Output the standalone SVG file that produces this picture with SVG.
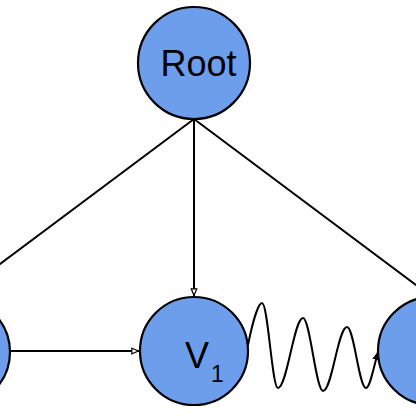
<svg xmlns="http://www.w3.org/2000/svg" width="416" height="416" viewBox="0 0 416 416">
<defs>
<style>
.node{fill:#6d9eeb;stroke:#000;stroke-width:2.2}
.edge{fill:none;stroke:#000;stroke-width:2}
.lbl{font-family:"Liberation Sans",Arial,sans-serif;fill:#000}
</style>
<marker id="open" viewBox="0 0 10 10" refX="10" refY="5" markerWidth="10" markerHeight="8" markerUnits="userSpaceOnUse" orient="auto">
<path d="M1,1.5 L9.5,5 L1,8.5 Z" fill="#fff" stroke="#000" stroke-width="1.5"/>
</marker>
<marker id="solid" viewBox="0 0 10 10" refX="9" refY="5" markerWidth="9" markerHeight="9" markerUnits="userSpaceOnUse" orient="auto">
<path d="M0,1 L10,5 L0,9 Z" fill="#000"/>
</marker>
</defs>
<rect width="416" height="416" fill="#fff"/>
<g id="connectors">
<line class="edge" x1="194" y1="119" x2="-44" y2="297"/>
<line class="edge" x1="194" y1="119" x2="432" y2="297"/>
<line class="edge" x1="194" y1="119" x2="194" y2="296" marker-end="url(#open)"/>
<line class="edge" x1="10" y1="351" x2="139" y2="351" marker-end="url(#open)"/>
<path class="edge" d="M248,345 C252,325 258,303 262,303 C268,303 272,388 278,388 C287,388 294,318 303,318 C310,318 316,391 323,391 C332,391 338,327 347,327 C354,327 359,388 366,388 C370,388 374,366 378,352" marker-end="url(#solid)"/>
</g>
<g id="root">
<circle class="node" cx="194" cy="63" r="56"/>
<text class="lbl" x="198.5" y="75.5" font-size="36" text-anchor="middle">Root</text>
</g>
<g id="v1">
<circle class="node" cx="194" cy="351" r="54"/>
<text class="lbl" x="185" y="368" font-size="36">V</text>
<text class="lbl" x="211" y="382" font-size="23">1</text>
</g>
<g id="left">
<circle class="node" cx="-44" cy="352" r="54"/>
</g>
<g id="right">
<circle class="node" cx="432" cy="351" r="54"/>
</g>
</svg>
